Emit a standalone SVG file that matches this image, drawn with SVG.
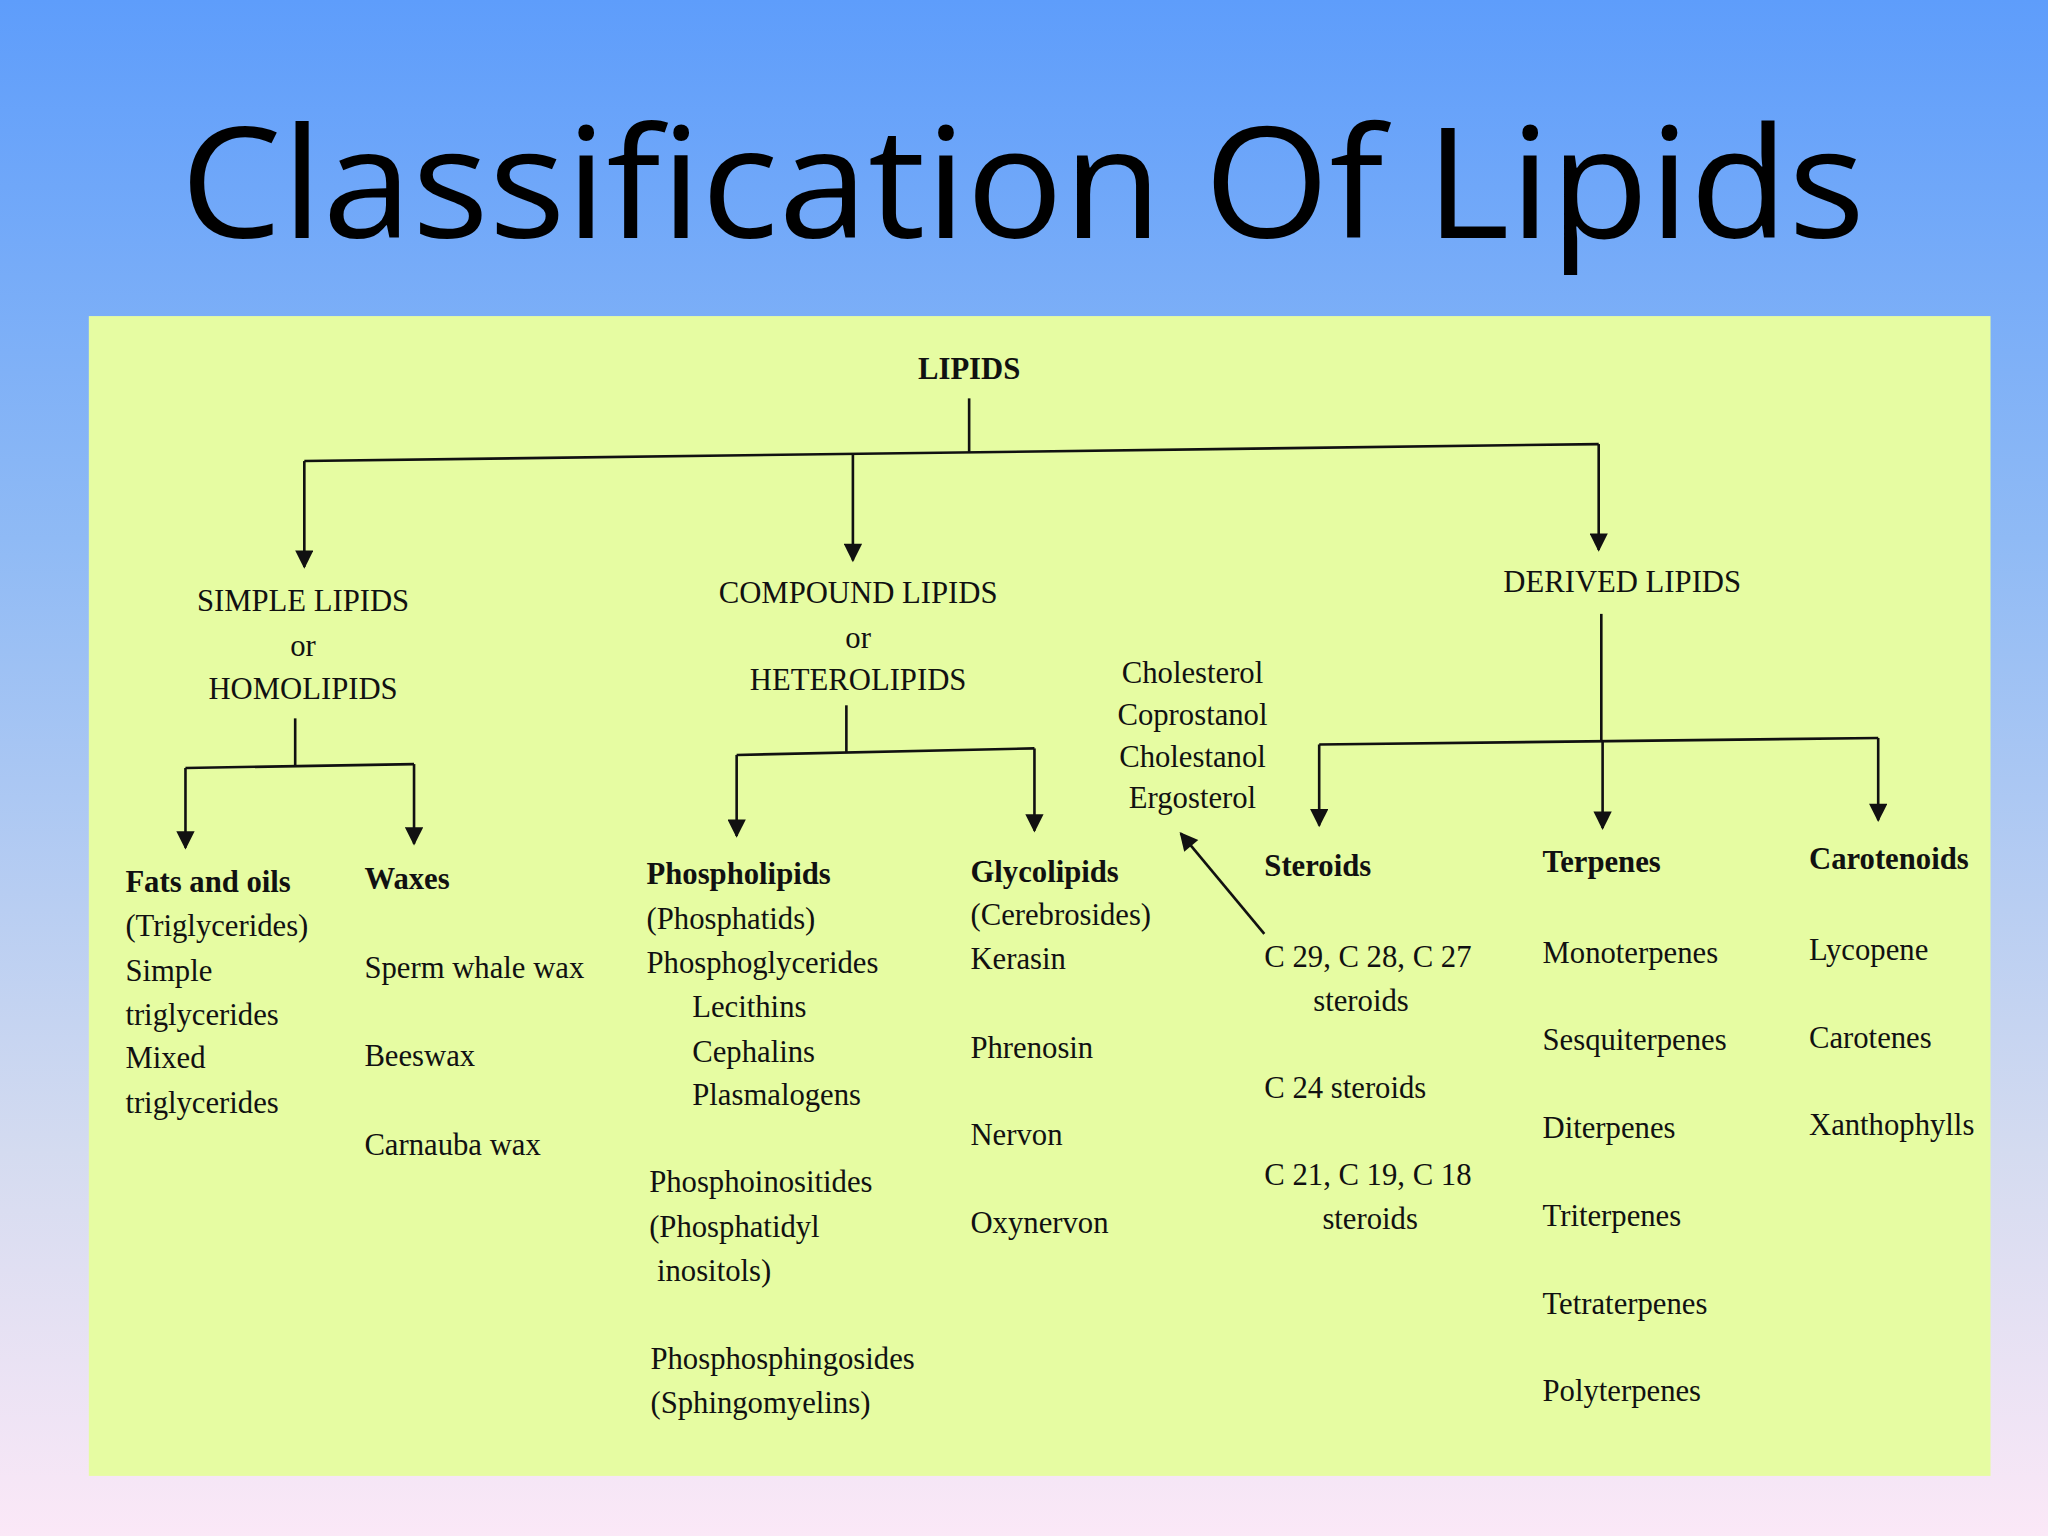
<svg xmlns="http://www.w3.org/2000/svg" width="2048" height="1536" viewBox="0 0 2048 1536">
<defs>
<linearGradient id="bg" x1="0" y1="0" x2="0" y2="1">
<stop offset="0" stop-color="#5e9dfb"/>
<stop offset="0.35" stop-color="#8fbaf5"/>
<stop offset="0.75" stop-color="#d4dbf0"/>
<stop offset="1" stop-color="#fbe8f7"/>
</linearGradient>
<marker id="ah" viewBox="0 0 10 10" refX="9" refY="5" markerWidth="17" markerHeight="14" markerUnits="userSpaceOnUse" orient="auto">
<path d="M0,0 L10,5 L0,10 z" fill="#111"/>
</marker>
<style>
.t{font-family:"Liberation Serif",serif;font-size:23.5px;fill:#111}
.b{font-weight:bold}
.c{text-anchor:middle}
.ln{stroke:#111;stroke-width:2;fill:none}
.ar{stroke:#111;stroke-width:2;fill:none;marker-end:url(#ah)}
</style>
</defs>
<rect width="2048" height="1536" fill="url(#bg)"/>
<g transform="scale(1.30612)">
<text x="783" y="182" text-anchor="middle" font-family="Open Sans, Liberation Sans, sans-serif" font-size="118" fill="#000" textLength="1290" lengthAdjust="spacingAndGlyphs">Classification Of Lipids</text>
<rect x="68" y="242" width="1456" height="888" fill="#e6fca2"/>
<g id="connectors">
<path class="ln" d="M742,305 V346"/>
<path class="ln" d="M233,353 L1224,340"/>
<path class="ar" d="M233,353 V434"/>
<path class="ar" d="M653,348 V429"/>
<path class="ar" d="M1224,340 V421"/>
<path class="ln" d="M226,550 V586"/>
<path class="ln" d="M142,588 L317,585"/>
<path class="ar" d="M142,588 V649"/>
<path class="ar" d="M317,585 V646"/>
<path class="ln" d="M648,540 V576"/>
<path class="ln" d="M564,578 L792,573"/>
<path class="ar" d="M564,578 V640"/>
<path class="ar" d="M792,573 V636"/>
<path class="ln" d="M1226,470 V567"/>
<path class="ln" d="M1010,570 L1438,565"/>
<path class="ar" d="M1010,570 V632"/>
<path class="ar" d="M1227,567 V634"/>
<path class="ar" d="M1438,565 V628"/>
<path class="ar" d="M968,715 L904,638"/>
</g>
<g id="lipids"><text class="t b c" x="742" y="290">LIPIDS</text></g>
<g id="simple"><text class="t c" x="232" y="468">SIMPLE LIPIDS</text><text class="t c" x="232" y="502">or</text><text class="t c" x="232" y="535">HOMOLIPIDS</text></g>
<g id="compound"><text class="t c" x="657" y="462">COMPOUND LIPIDS</text><text class="t c" x="657" y="496">or</text><text class="t c" x="657" y="528">HETEROLIPIDS</text></g>
<g id="derived"><text class="t c" x="1242" y="453">DERIVED LIPIDS</text></g>
<g id="sterols"><text class="t c" x="913" y="523">Cholesterol</text><text class="t c" x="913" y="555">Coprostanol</text><text class="t c" x="913" y="587">Cholestanol</text><text class="t c" x="913" y="619">Ergosterol</text></g>
<g id="fats"><text class="t b" x="96" y="683">Fats and oils</text><text class="t" x="96" y="717">(Triglycerides)</text><text class="t" x="96" y="751">Simple</text><text class="t" x="96" y="785">triglycerides</text><text class="t" x="96" y="818">Mixed</text><text class="t" x="96" y="852">triglycerides</text></g>
<g id="waxes"><text class="t b" x="279" y="681">Waxes</text><text class="t" x="279" y="749">Sperm whale wax</text><text class="t" x="279" y="816">Beeswax</text><text class="t" x="279" y="884">Carnauba wax</text></g>
<g id="phospholipids"><text class="t b" x="495" y="677">Phospholipids</text><text class="t" x="495" y="711">(Phosphatids)</text><text class="t" x="495" y="745">Phosphoglycerides</text><text class="t" x="530" y="779">Lecithins</text><text class="t" x="530" y="813">Cephalins</text><text class="t" x="530" y="846">Plasmalogens</text><text class="t" x="497" y="913">Phosphoinositides</text><text class="t" x="497" y="947">(Phosphatidyl</text><text class="t" x="503" y="981">inositols)</text><text class="t" x="498" y="1048">Phosphosphingosides</text><text class="t" x="498" y="1082">(Sphingomyelins)</text></g>
<g id="glycolipids"><text class="t b" x="743" y="675">Glycolipids</text><text class="t" x="743" y="708">(Cerebrosides)</text><text class="t" x="743" y="742">Kerasin</text><text class="t" x="743" y="810">Phrenosin</text><text class="t" x="743" y="877">Nervon</text><text class="t" x="743" y="944">Oxynervon</text></g>
<g id="steroids"><text class="t b" x="968" y="671">Steroids</text><text class="t" x="968" y="740">C 29, C 28, C 27</text><text class="t c" x="1042" y="774">steroids</text><text class="t" x="968" y="841">C 24 steroids</text><text class="t" x="968" y="907">C 21, C 19, C 18</text><text class="t c" x="1049" y="941">steroids</text></g>
<g id="terpenes"><text class="t b" x="1181" y="668">Terpenes</text><text class="t" x="1181" y="737">Monoterpenes</text><text class="t" x="1181" y="804">Sesquiterpenes</text><text class="t" x="1181" y="871">Diterpenes</text><text class="t" x="1181" y="939">Triterpenes</text><text class="t" x="1181" y="1006">Tetraterpenes</text><text class="t" x="1181" y="1073">Polyterpenes</text></g>
<g id="carotenoids"><text class="t b" x="1385" y="665">Carotenoids</text><text class="t" x="1385" y="735">Lycopene</text><text class="t" x="1385" y="802">Carotenes</text><text class="t" x="1385" y="869">Xanthophylls</text></g>
</g>
</svg>
